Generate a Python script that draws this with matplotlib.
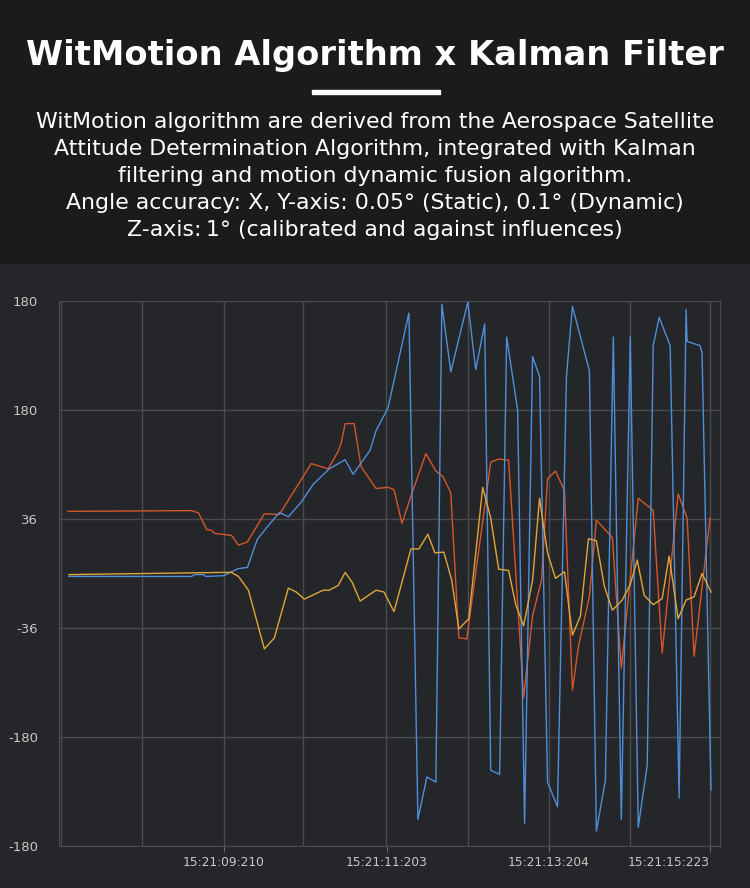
import matplotlib.pyplot as plt
from matplotlib.patches import Rectangle

# sample positions along the time axis and angle values (in grid units, 0..5)
red_x = [66, 190, 197, 205, 210, 213, 230, 237, 246, 263, 278, 310, 327, 337, 340, 344, 353, 360,
         375, 387, 393, 401, 410, 425, 435, 442, 450, 458, 466, 490, 498, 508, 523, 532, 541, 547,
         555, 564, 572, 578, 589, 596, 612, 621, 638, 653, 662, 678, 687, 694, 710]
red_y = [3.07, 3.077, 3.055, 2.904, 2.897, 2.868, 2.85, 2.76, 2.79, 3.048, 3.041, 3.508, 3.46, 3.62,
         3.695, 3.875, 3.875, 3.48, 3.28, 3.29, 3.27, 2.96, 3.21, 3.60, 3.44, 3.39, 3.24, 1.91, 1.90,
         3.52, 3.55, 3.54, 1.36, 2.11, 2.44, 3.37, 3.44, 3.26, 1.43, 1.83, 2.29, 2.99, 2.83, 1.63,
         3.19, 3.08, 1.77, 3.23, 3.01, 1.74, 3.01]

blue_x = [67, 190, 193, 202, 204, 222, 230, 237, 246, 256, 267, 278, 287, 300, 312, 328, 344, 352,
          369, 375, 387, 408, 417, 426, 435, 441, 450, 467, 475, 484, 490, 499, 506, 517, 524, 532,
          539, 547, 557, 566, 572, 589, 596, 605, 613, 621, 630, 638, 647, 653, 659, 670, 679, 686,
          687, 700, 702, 711]
blue_y = [2.473, 2.473, 2.49, 2.49, 2.473, 2.48, 2.516, 2.545, 2.556, 2.815, 2.94, 3.06, 3.02,
          3.156, 3.318, 3.46, 3.544, 3.41, 3.63, 3.81, 4.02, 4.89, 0.244, 0.633, 0.586, 4.97, 4.35,
          4.99, 4.37, 4.79, 0.694, 0.658, 4.67, 4.0, 0.208, 4.49, 4.31, 0.586, 0.36, 4.31, 4.95,
          4.36, 0.137, 0.60, 4.67, 0.244, 4.67, 0.173, 0.74, 4.59, 4.85, 4.59, 0.44, 4.92, 4.63,
          4.59, 4.52, 0.514]

yellow_x = [67, 222, 230, 237, 247, 263, 273, 287, 295, 303, 322, 328, 337, 344, 351, 359, 375,
            383, 393, 410, 418, 427, 434, 443, 451, 458, 468, 482, 490, 498, 508, 515, 523, 532,
            539, 547, 555, 564, 572, 580, 588, 596, 604, 612, 622, 630, 637, 644, 653, 662, 669,
            678, 686, 694, 702, 711]
yellow_y = [2.49, 2.51, 2.51, 2.473, 2.347, 1.808, 1.909, 2.365, 2.33, 2.265, 2.347, 2.347, 2.39,
            2.51, 2.42, 2.247, 2.347, 2.33, 2.15, 2.725, 2.725, 2.86, 2.69, 2.696, 2.437, 1.99,
            2.085, 3.29, 3.01, 2.54, 2.527, 2.22, 2.02, 2.437, 3.19, 2.69, 2.455, 2.516, 1.934,
            2.11, 2.818, 2.80, 2.383, 2.163, 2.257, 2.40, 2.624, 2.30, 2.214, 2.27, 2.66, 2.085,
            2.257, 2.286, 2.50, 2.33]

y_ticks = [0, 1, 2, 3, 4, 5]
y_labels = ['-180', '-180', '-36', '36', '180', '180']
x_grid = [59, 140, 222, 302, 385, 467, 548, 630, 710]
x_ticks = [222, 386, 548, 710]
x_labels = ['15:21:09:210', '15:21:11:203', '15:21:13:204', '15:21:15:223']

title = 'WitMotion Algorithm x Kalman Filter'
subtitle = ['WitMotion algorithm are derived from the Aerospace Satellite',
            'Attitude Determination Algorithm, integrated with Kalman',
            'filtering and motion dynamic fusion algorithm.',
            'Angle accuracy: X, Y-axis: 0.05° (Static), 0.1° (Dynamic)',
            'Z-axis:\u20091° (calibrated and against influences)']

plt.rcParams['font.family'] = ['DejaVu Sans']

fig = plt.figure(figsize=(7.5, 8.88), dpi=100)
fig.patch.set_facecolor('#252629')

# header band
fig.patches.append(Rectangle((0, 1 - 263 / 888), 1, 263 / 888, transform=fig.transFigure,
                             color='#1b1b1d', zorder=0))
fig.text(0.5, 1 - 56 / 888, title, ha='center', va='center', color='white',
         fontsize=24.2, fontweight='bold')
fig.patches.append(Rectangle((312 / 750, 1 - 94 / 888), 128 / 750, 4 / 888,
                             transform=fig.transFigure, color='white', zorder=1))
for i, line in enumerate(subtitle):
    fig.text(0.5, 1 - (122 + 27 * i) / 888, line, ha='center', va='center', color='white',
             fontsize=15.8)

ax = fig.add_axes([59 / 750, 42 / 888, 661 / 750, 545 / 888])
ax.set_facecolor('#252629')
ax.plot(red_x, red_y, color='#d4572a', lw=1)
ax.plot(blue_x, blue_y, color='#4f8fd9', lw=1)
ax.plot(yellow_x, yellow_y, color='#e0a63a', lw=1)

ax.set_xlim(57, 720)
ax.set_ylim(0, 5)
for gx in x_grid:
    ax.axvline(gx, color='#4a4b4e', lw=1, zorder=0)
for gy in y_ticks:
    ax.axhline(gy, color='#4a4b4e', lw=1, zorder=0)
ax.set_yticks(y_ticks)
ax.set_yticklabels(y_labels)
ax.set_xticks(x_ticks)
ax.set_xticklabels(x_labels)
ax.tick_params(axis='y', length=0, colors='#c8c8c8', labelsize=9.5, pad=15)
ax.tick_params(axis='x', length=4, colors='#c8c8c8', labelsize=8.8, color='#6a6a6a')
# keep the last time label inside the figure
ax.get_xticklabels()[-1].set_horizontalalignment('right')
ax.get_xticklabels()[-1].set_x(746)
for s in ax.spines.values():
    s.set_color('#4a4b4e')
ax.spines['top'].set_visible(False)

fig.savefig('out.png', dpi=100, facecolor=fig.get_facecolor())
